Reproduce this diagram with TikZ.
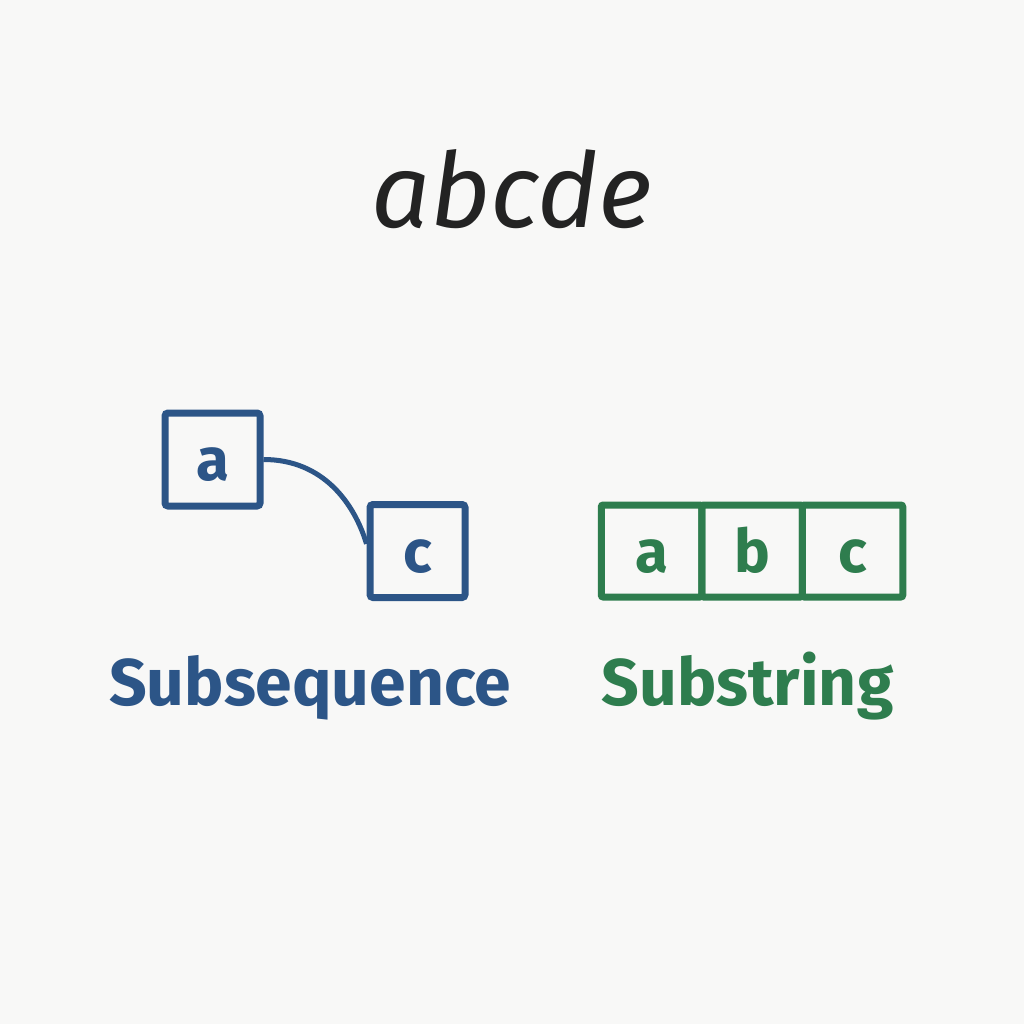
\documentclass[tikz,border=0pt]{standalone}
\usepackage{fontspec}
\setmainfont{Fira Sans}
\definecolor{bg}{HTML}{F8F8F7}
\definecolor{seqblue}{HTML}{2C5587}
\definecolor{strgreen}{HTML}{2E7D4E}
\definecolor{ink}{HTML}{232323}
\tikzset{
  bluebox/.style={draw=seqblue, line width=7pt, rounded corners=3pt, minimum width=95pt, minimum height=93pt, inner sep=0pt, text height=42pt, text depth=0pt, text=seqblue, font=\fontsize{60}{62}\selectfont\bfseries},
  greenbox/.style={draw=strgreen, line width=7pt, rounded corners=2pt, minimum width=100.5pt, minimum height=92pt, inner sep=0pt, text height=42pt, text depth=0pt, text=strgreen, font=\fontsize{60}{62}\selectfont\bfseries},
  label/.style={anchor=base, inner sep=0pt, font=\fontsize{66}{70}\selectfont\bfseries}
}
\begin{document}
\begin{tikzpicture}[x=1pt,y=-1pt]
\fill[bg] (0,0) rectangle (1024,1024);
\useasboundingbox (0,0) rectangle (1024,1024);
\node[anchor=base, inner sep=0pt, text=ink, font=\fontsize{104}{110}\selectfont\itshape] (title) at (512,228) {abcde};
\node[bluebox] (a) at (212.5,459.5) {a};
\node[bluebox] (c) at (417.5,551) {c};
\draw[seqblue, line width=5pt] (a.east) .. controls +(60,0) and +(-12,-40) .. (c.172);
\node[greenbox] (ga) at (651.5,551) {a};
\node[greenbox] (gb) at (752,551) {b};
\node[greenbox] (gc) at (852.5,551) {c};
\node[label, text=seqblue] (subseq) at (310,705) {Subsequence};
\node[label, text=strgreen] (substr) at (747.5,705) {Substring};
\end{tikzpicture}
\end{document}
